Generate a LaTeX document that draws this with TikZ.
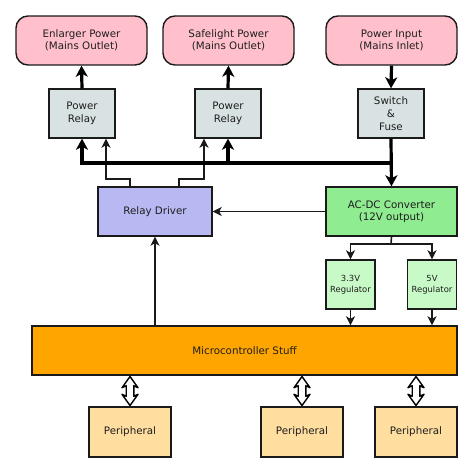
\documentclass[tikz,border=0pt]{standalone}
\usepackage{fontspec}
\setmainfont{DejaVu Sans}
\usetikzlibrary{arrows.meta,calc}
\definecolor{pinkbox}{RGB}{255,192,203}
\definecolor{graybox}{RGB}{216,226,226}
\definecolor{driverbox}{RGB}{184,184,242}
\definecolor{acdcbox}{RGB}{144,236,144}
\definecolor{regbox}{RGB}{200,250,200}
\definecolor{mcbox}{RGB}{255,165,0}
\definecolor{perbox}{RGB}{255,222,160}
\definecolor{edge}{RGB}{26,26,26}
\definecolor{txt}{RGB}{30,30,30}
\tikzset{
  box/.style={draw=edge, line width=1.4pt, text=txt, align=center, inner sep=1pt,
    font=\fontsize{10.3}{12.5}\selectfont},
  outlet/.style={box, fill=pinkbox, rounded corners=12pt, minimum width=131pt, minimum height=49pt},
  relay/.style={box, fill=graybox, minimum width=66pt, minimum height=49pt},
  driver/.style={box, fill=driverbox, minimum width=114pt, minimum height=49pt},
  acdc/.style={box, fill=acdcbox, minimum width=131pt, minimum height=49pt},
  reg/.style={box, fill=regbox, minimum width=49pt, minimum height=49pt,
    font=\fontsize{8.4}{11}\selectfont},
  mcu/.style={box, fill=mcbox, minimum width=425pt, minimum height=49pt},
  periph/.style={box, fill=perbox, minimum width=82pt, minimum height=50pt},
  thk/.style={draw=black, line width=3.2pt, -{Stealth[length=11pt,width=12pt,inset=3pt]}},
  thkline/.style={draw=black, line width=3.2pt},
  thn/.style={draw=edge, line width=1.6pt, -{Stealth[length=9pt,width=9pt,inset=2.5pt]}},
  thnline/.style={draw=edge, line width=1.6pt},
  dbl/.style={draw=black, line width=1.4pt, fill=white, line join=round},
}
\begin{document}
\begin{tikzpicture}[x=1pt,y=-1pt]
\useasboundingbox (0,0) rectangle (474,474);
% top row
\node[outlet] (enl) at (81.5,40.5) {Enlarger Power\\(Mains Outlet)};
\node[outlet] (safe) at (228.5,40.5) {Safelight Power\\(Mains Outlet)};
\node[outlet] (pin) at (391.5,40.5) {Power Input\\(Mains Inlet)};
% relays
\node[relay] (pr1) at (82,113.5) {Power\\Relay};
\node[relay] (pr2) at (228,113.5) {Power\\Relay};
\node[relay, font=\fontsize{10.3}{13}\selectfont] (sf) at (391,113.5) {Switch\\\&\\Fuse};
% middle
\node[driver] (rd) at (155,211.5) {Relay Driver};
\node[acdc] (ac) at (391.5,211.5) {AC-DC Converter\\(12V output)};
\node[reg] (r33) at (350.5,284.5) {3.3V\\Regulator};
\node[reg] (r5) at (432,284.5) {5V\\Regulator};
\node[mcu] (mc) at (244.5,350.5) {Microcontroller Stuff};
\node[periph] (p1) at (130,432) {Peripheral};
\node[periph] (p2) at (302,432) {Peripheral};
\node[periph] (p3) at (416,432) {Peripheral};
% coordinates
\coordinate (busR) at (391,163);
\coordinate (t1) at (130,179);
\coordinate (t2) at (106,179);
\coordinate (t3) at (179,179);
\coordinate (t4) at (204,179);
\coordinate (sp) at (391,244);
% thin relay-driver lines (under the bus)
\draw[thn] (t1 |- rd.north) -- (t1) -| (t2 |- pr1.south);
\draw[thn] (t3 |- rd.north) -- (t3) -| (t4 |- pr2.south);
% thick power lines
\draw[thk] (pr1.north) -- (enl.south);
\draw[thk] (pr2.north) -- (safe.south);
\draw[thk] (pin.south) -- (sf.north);
\draw[thk] (sf.south) -- (ac.north);
\draw[thk] (busR) -| (pr1.south);
\draw[thk] (pr2.south |- busR) -- (pr2.south);
% converter outputs
\draw[thn] (ac.west) -- (rd.east);
\draw[thnline] (ac.south) -- (sp);
\draw[thn] (sp) -| (r33.north);
\draw[thn] (sp) -| (r5.north);
\draw[thn] (r33.south) -- (r33.south |- mc.north);
\draw[thn] (r5.south) -- (r5.south |- mc.north);
\draw[thn] (rd.south |- mc.north) -- (rd.south);
% double arrows to peripherals
\foreach \q in {p1,p2,p3}{
  \draw[dbl] let \p1=(\q.north), \p2=(mc.south) in
    (\x1,\y2-0.8pt) -- (\x1+8pt,\y2-12pt) -- (\x1+3.8pt,\y2-10pt) -- (\x1+3.8pt,\y1+10pt)
    -- (\x1+8pt,\y1+12pt) -- (\x1,\y1+0.8pt) -- (\x1-8pt,\y1+12pt) -- (\x1-3.8pt,\y1+10pt)
    -- (\x1-3.8pt,\y2-10pt) -- (\x1-8pt,\y2-12pt) -- cycle;
}
\end{tikzpicture}
\end{document}
